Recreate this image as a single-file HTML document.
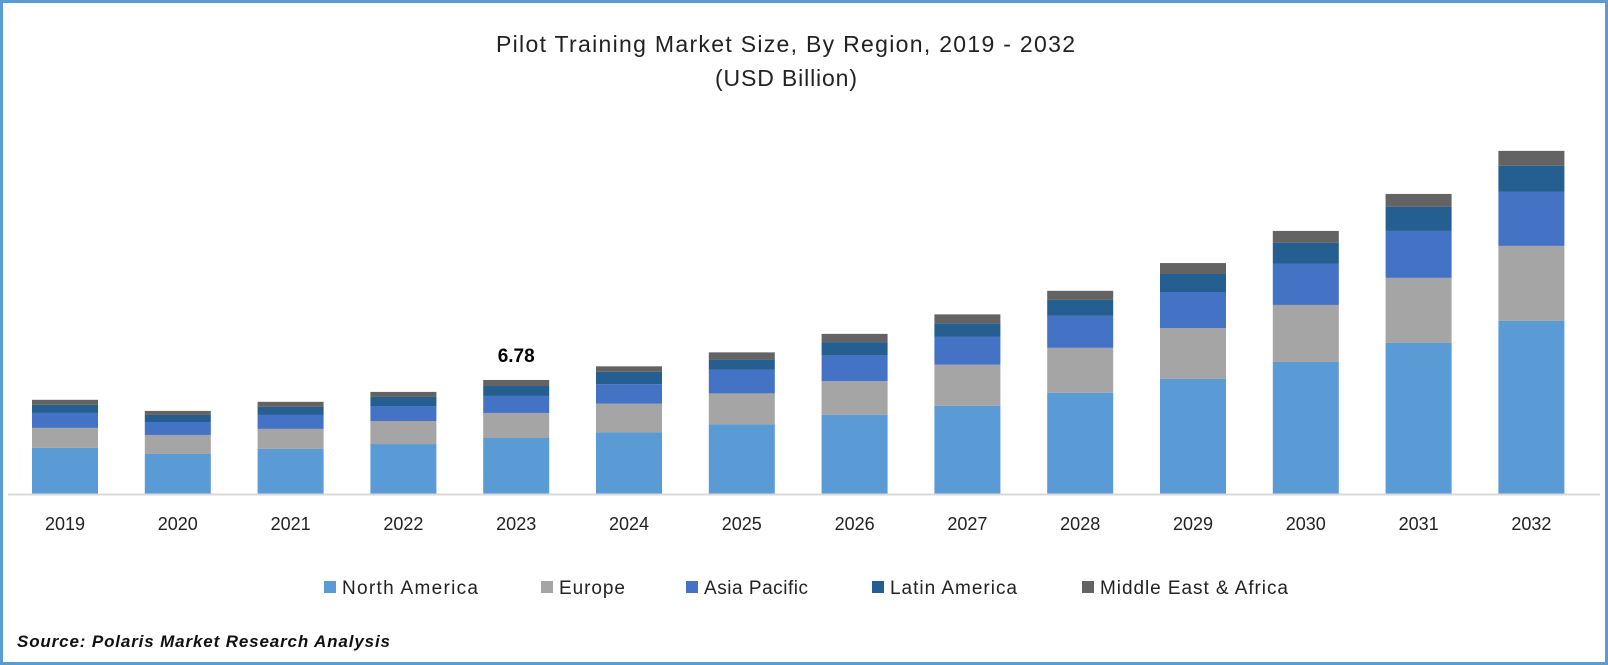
<!DOCTYPE html>
<html><head><meta charset="utf-8"><style>
body{margin:0;background:#fff;}
#wrap{position:relative;width:1608px;height:665px;box-sizing:border-box;border:3px solid #5b9bd5;overflow:hidden;font-family:"Liberation Sans",Calibri,sans-serif;}
svg text{font-family:"Liberation Sans",sans-serif;}
</style></head><body>
<div id="wrap">
<svg id="chart" width="1602" height="659" viewBox="3 3 1602 659">
<text x="496" y="52" font-size="23" fill="#222" textLength="579" lengthAdjust="spacing">Pilot Training Market Size, By Region, 2019 - 2032</text>
<text x="715" y="86" font-size="23" fill="#222" textLength="142" lengthAdjust="spacing">(USD Billion)</text>
<g id="bars"></g>
<line x1="8" x2="1600" y1="494.5" y2="494.5" stroke="#d9d9d9" stroke-width="2"/>
<g id="xlabels"></g>
<g id="legend"></g>
<text x="17" y="647" font-size="17" font-weight="bold" font-style="italic" fill="#111" textLength="373" lengthAdjust="spacing">Source: Polaris Market Research Analysis</text>
</svg>
</div>
<script>
const years=["2019","2020","2021","2022","2023","2024","2025","2026","2027","2028","2029","2030","2031","2032"];
const northAmerica=[2.74,2.38,2.68,2.97,3.33,3.66,4.15,4.70,5.25,6.01,6.84,7.85,8.98,10.29];
const europe=[1.19,1.13,1.19,1.37,1.49,1.71,1.83,2.01,2.44,2.68,3.03,3.39,3.87,4.46];
const asiaPacific=[0.89,0.77,0.83,0.89,1.01,1.16,1.40,1.53,1.65,1.90,2.14,2.44,2.79,3.21];
const latinAmerica=[0.48,0.42,0.48,0.54,0.59,0.73,0.61,0.79,0.79,0.95,1.07,1.25,1.43,1.55];
const middleEastAfrica=[0.30,0.24,0.30,0.30,0.36,0.33,0.43,0.49,0.55,0.54,0.65,0.71,0.77,0.89];
const seriesNames=["North America","Europe","Asia Pacific","Latin America","Middle East & Africa"];
const annotatedYear="2023";
const annotatedValue="6.78";

const NS="http://www.w3.org/2000/svg";
const series=[northAmerica,europe,asiaPacific,latinAmerica,middleEastAfrica];
const colors=["#5b9bd5","#a5a5a5","#4472c4","#255e91","#636363"];
const segNames=["north-america","europe","asia-pacific","latin-america","middle-east-africa"];
const baseY=494, pxPerUnit=16.82, firstX=65, step=112.8, barW=66;
const xPos=i=>firstX+i*step;
const yPos=v=>baseY-v*pxPerUnit;
const gb=document.getElementById('bars');
years.forEach((yr,i)=>{
  let cum=0;
  series.forEach((s,k)=>{
    const r=document.createElementNS(NS,'rect');
    const y0=yPos(cum), y1=yPos(cum+s[i]);
    r.setAttribute('x',xPos(i)-barW/2);r.setAttribute('y',y1);
    r.setAttribute('width',barW);r.setAttribute('height',y0-y1);
    r.setAttribute('fill',colors[k]);
    
    
    gb.appendChild(r);cum+=s[i];
  });
  if(yr===annotatedYear){
    const t=document.createElementNS(NS,'text');
    t.setAttribute('x',xPos(i));t.setAttribute('y',yPos(cum)-18);
    t.setAttribute('text-anchor','middle');t.setAttribute('font-size','19');t.setAttribute('font-weight','bold');
    t.textContent=annotatedValue;
    
    
    gb.appendChild(t);
  }
  const l=document.createElementNS(NS,'text');
  l.setAttribute('x',xPos(i));l.setAttribute('y',530);
  l.setAttribute('text-anchor','middle');l.setAttribute('font-size','18');l.setAttribute('fill','#222');
  l.textContent=yr;
  
  
  document.getElementById('xlabels').appendChild(l);
});
const legX=[324,541,686,872,1082];
const legW=[136,66,104,127,188];
const gl=document.getElementById('legend');
seriesNames.forEach((n,k)=>{
  const g=document.createElementNS(NS,'g');
  
  
  const r=document.createElementNS(NS,'rect');
  r.setAttribute('x',legX[k]);r.setAttribute('y',581);r.setAttribute('width',12);r.setAttribute('height',12);
  r.setAttribute('fill',colors[k]);
  
  
  const t=document.createElementNS(NS,'text');
  t.setAttribute('x',legX[k]+18);t.setAttribute('y',594);t.setAttribute('font-size','19');t.setAttribute('fill','#222');
  t.setAttribute('textLength',legW[k]);t.setAttribute('lengthAdjust','spacing');
  t.textContent=n;
  
  
  g.appendChild(r);g.appendChild(t);gl.appendChild(g);
});
</script>
</body></html>
